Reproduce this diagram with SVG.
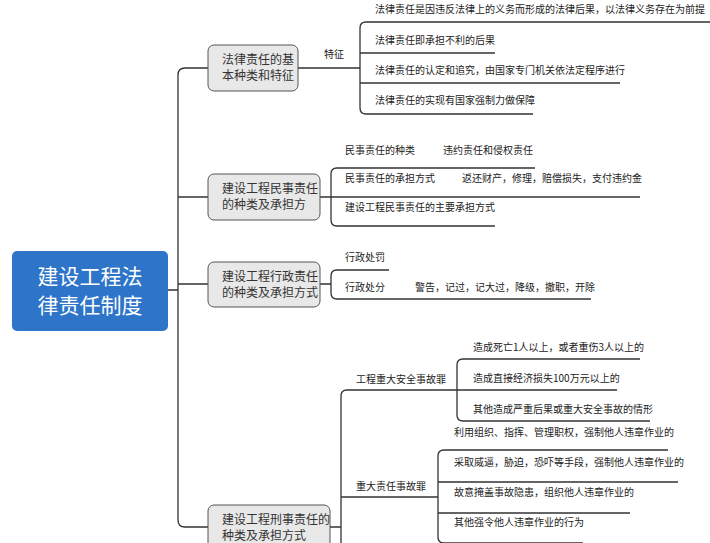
<svg xmlns="http://www.w3.org/2000/svg" width="710" height="543" viewBox="0 0 710 543">
<style>
.l{fill:none;stroke:#333;stroke-width:1.3}
.b{fill:#e8e8e8;stroke:#555;stroke-width:1}
text{font-family:"Noto Sans CJK SC","Liberation Sans",sans-serif;fill:#222}
.t{font-size:10px}
.bt{font-size:12px;fill:#333}
.r{font-size:21px;fill:#fff}
</style>
<rect width="710" height="543" fill="#fff"/>
<g id="connectors">
<path class="l" d="M168 290H178M208 68H185Q178 68 178 75V520Q178 527 185 527H208M178 197H208M178 284H208"/>
<path class="l" d="M298 68H360M366 22Q360 22 360 28V108Q360 114 366 114M366 22H710M360 53H495M360 83H620M366 114H533"/>
<path class="l" d="M320 197H331M337 168Q331 168 331 174V220Q331 226 337 226M337 168H535M331 197H640M337 226H495"/>
<path class="l" d="M320 284H331M337 270Q331 270 331 276V293Q331 299 337 299M337 270H389M337 299H591"/>
<path class="l" d="M330 527H341M347 390Q341 390 341 396V543M347 390H457M341 497H438"/>
<path class="l" d="M457 390H457M463 359Q457 359 457 365V415Q457 421 463 421M463 359H640M457 390H617M463 421H650"/>
<path class="l" d="M444 450Q438 450 438 456V537Q438 543 444 543M444 450H668M438 482H678M438 513H630M444 543H583"/>
</g>
<g id="root"><rect x="12" y="251" width="156" height="80" rx="5" fill="#2e75c9"/><text class="r" x="90" y="284" text-anchor="middle">建设工程法</text><text class="r" x="90" y="313" text-anchor="middle">律责任制度</text></g>
<g id="n1"><rect class="b" x="208" y="45" width="90" height="46" rx="6"/><text class="bt" x="222" y="64">法律责任的基</text><text class="bt" x="222" y="80">本种类和特征</text></g>
<g id="n2"><rect class="b" x="208" y="174" width="112" height="46" rx="6"/><text class="bt" x="222" y="193">建设工程民事责任</text><text class="bt" x="222" y="209">的种类及承担方</text></g>
<g id="n3"><rect class="b" x="208" y="262" width="112" height="45" rx="6"/><text class="bt" x="222" y="281">建设工程行政责任</text><text class="bt" x="222" y="297">的种类及承担方式</text></g>
<g id="n4"><rect class="b" x="208" y="505" width="122" height="46" rx="6"/><text class="bt" x="222" y="524">建设工程刑事责任的</text><text class="bt" x="222" y="540">种类及承担方式</text></g>
<g id="labels" class="t">
<text x="324" y="58">特征</text>
<text x="375" y="13">法律责任是因违反法律上的义务而形成的法律后果，以法律义务存在为前提</text>
<text x="375" y="44">法律责任即承担不利的后果</text>
<text x="375" y="74">法律责任的认定和追究，由国家专门机关依法定程序进行</text>
<text x="375" y="104">法律责任的实现有国家强制力做保障</text>
<text x="345" y="154">民事责任的种类</text><text x="443" y="154">违约责任和侵权责任</text>
<text x="345" y="182">民事责任的承担方式</text><text x="462" y="182">返还财产，修理，赔偿损失，支付违约金</text>
<text x="345" y="211">建设工程民事责任的主要承担方式</text>
<text x="345" y="261">行政处罚</text>
<text x="345" y="291">行政处分</text><text x="415" y="291">警告，记过，记大过，降级，撤职，开除</text>
<text x="356" y="383">工程重大安全事故罪</text>
<text x="473" y="351">造成死亡1人以上，或者重伤3人以上的</text>
<text x="473" y="382">造成直接经济损失100万元以上的</text>
<text x="473" y="413">其他造成严重后果或重大安全事故的情形</text>
<text x="356" y="490">重大责任事故罪</text>
<text x="454" y="436">利用组织、指挥、管理职权，强制他人违章作业的</text>
<text x="454" y="466">采取威逼，胁迫，恐吓等手段，强制他人违章作业的</text>
<text x="454" y="496">故意掩盖事故隐患，组织他人违章作业的</text>
<text x="454" y="526">其他强令他人违章作业的行为</text>
</g>
</svg>
